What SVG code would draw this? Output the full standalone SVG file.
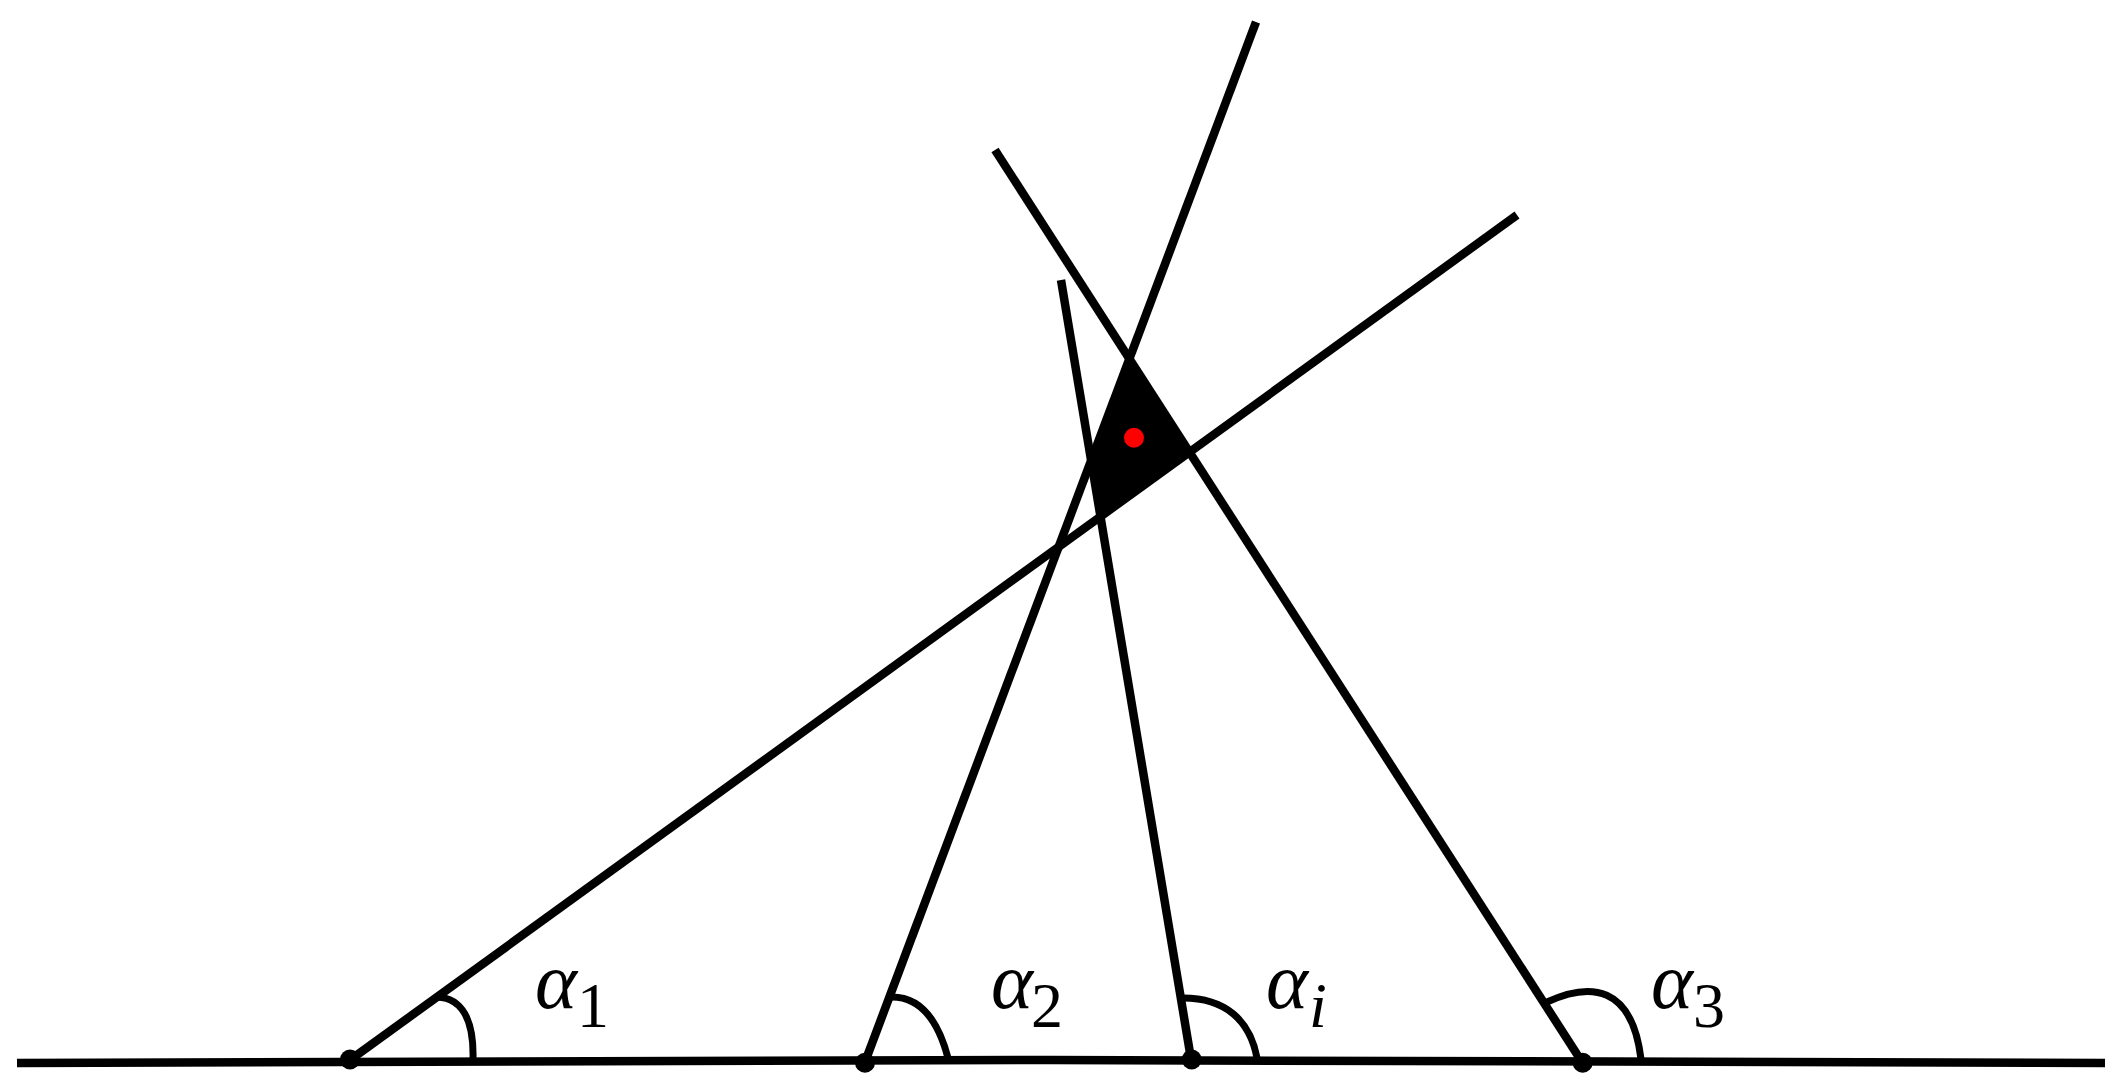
<svg xmlns="http://www.w3.org/2000/svg" width="2128" height="1091" viewBox="0 0 2128 1091">
<style>
.l{fill:none;stroke:#000;stroke-width:8.5;stroke-linecap:butt}
.a{fill:none;stroke:#000;stroke-width:7;stroke-linecap:butt}
.d{fill:#000}
text{font-family:'Liberation Serif','Times New Roman',serif;fill:#000}
.g{font-style:italic;font-size:80px}
.n{font-size:64px}
.i{font-style:italic;font-size:64px}
</style>
<rect width="2128" height="1091" fill="#fff"/>
<g id="lines">
<polyline class="l" points="17,1063 1050,1060 2105,1063"/>
<line class="l" x1="350" y1="1060" x2="1517" y2="215"/>
<line class="l" x1="865" y1="1062" x2="1256" y2="22"/>
<line class="l" x1="1191" y1="1059" x2="1061" y2="280"/>
<line class="l" x1="1582" y1="1062" x2="995" y2="150"/>
</g>
<polygon id="region" class="d" points="1128,357 1190,453 1100,517 1089,460"/>
<circle id="centre" cx="1134" cy="437.7" r="10" fill="#f00"/>
<g id="points">
<circle class="d" cx="350" cy="1059.5" r="10"/>
<circle class="d" cx="865" cy="1062.7" r="10"/>
<circle class="d" cx="1191.7" cy="1059.5" r="10"/>
<circle class="d" cx="1582.7" cy="1062.7" r="10"/>
</g>
<g id="arcs">
<path class="a" d="M437,997 C462,998 474,1020 473,1059"/>
<path class="a" d="M892,997 C920,997 938,1020 948,1058"/>
<path class="a" d="M1183,998 C1225,998 1250,1020 1257,1058"/>
<path class="a" d="M1547,1002 C1590,982 1632,985 1641,1059"/>
</g>
<g id="labels">
<text class="g" x="535" y="1008">α</text><text class="n" x="577" y="1027">1</text>
<text class="g" x="991" y="1008">α</text><text class="n" x="1031" y="1027">2</text>
<text class="g" x="1266" y="1008">α</text><text class="i" x="1309" y="1027">i</text>
<text class="g" x="1651" y="1008">α</text><text class="n" x="1693" y="1027">3</text>
</g>
</svg>
